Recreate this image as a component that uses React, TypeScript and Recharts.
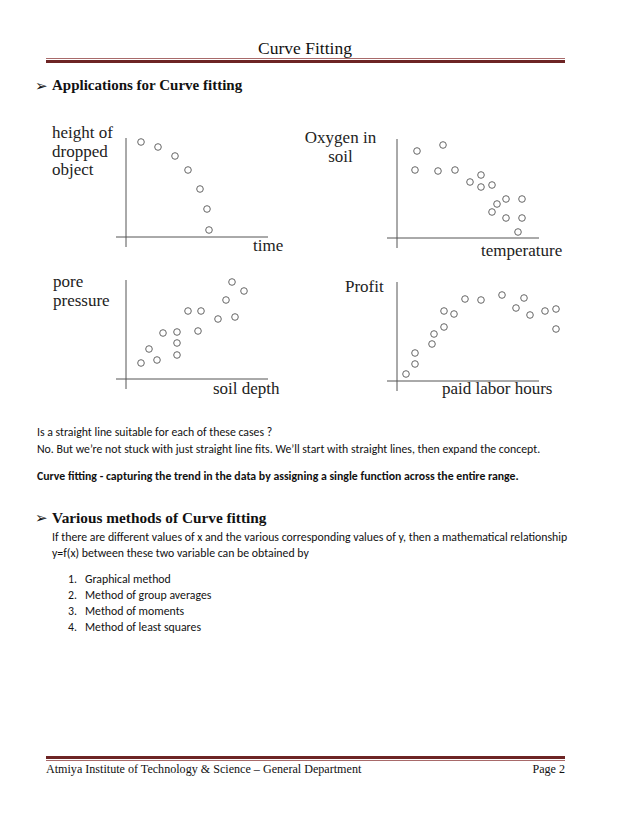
import React from "react";
import { ScatterChart, Scatter, XAxis, YAxis, ReferenceLine } from "recharts";

// values, in plot units (1 unit ~ 10px from the axis corner)
const droppedTime = [1.5, 3.2, 4.9, 6.2, 7.4, 8.1, 8.3];
const droppedHeight = [9.5, 9.0, 8.1, 6.7, 4.8, 2.8, 0.7];

const soilTemp = [2.0, 4.6, 1.8, 4.1, 5.8, 8.4, 7.3, 8.4, 9.5, 10.9, 12.5, 10.0, 9.5, 10.9, 12.5, 12.1];
const soilOxygen = [8.7, 9.3, 6.8, 6.7, 6.8, 6.3, 5.6, 5.1, 5.3, 3.9, 3.9, 3.4, 2.6, 2.0, 2.0, 0.6];

const soilDepth = [10.6, 11.8, 10.0, 6.2, 7.5, 9.2, 10.9, 7.2, 3.7, 5.1, 5.1, 2.3, 5.1, 3.1, 1.5];
const porePressure = [9.7, 8.8, 7.9, 6.8, 6.8, 6.0, 6.2, 4.8, 4.6, 4.7, 3.6, 3.0, 2.4, 1.9, 1.6];

const laborHours = [0.9, 1.8, 1.8, 3.5, 3.7, 4.7, 4.7, 5.7, 6.8, 8.4, 10.5, 12.7, 11.9, 13.3, 14.8, 15.9, 15.9];
const profit = [0.7, 1.7, 2.8, 3.7, 4.7, 5.4, 7.0, 6.7, 8.2, 8.1, 8.6, 8.3, 7.3, 6.6, 7.0, 7.2, 5.2];

const methods = ["Graphical method", "Method of group averages", "Method of moments", "Method of least squares"];

const SERIF = "'Liberation Serif', 'Times New Roman', serif";
const BODY = "Carlito, Lato, 'Liberation Sans', sans-serif";
const HEAD = "'Liberation Serif', serif";
const MAROON = "#6d2424";

const PX = 10;
const W = 185;
const H = 128;
const OX = 15; // axis corner inside the chart box
const OY = 113;

const Ring = (props: any) => (
    <circle cx={props.cx} cy={props.cy} r={3.3} fill="#fff" stroke="#666" strokeWidth={1} />
);

function Plot({ x, y, xs, ys }: { x: number; y: number; xs: number[]; ys: number[] }) {
    const data = xs.map((v, i) => ({ x: v, y: ys[i] }));
    return (
        <div style={{ position: "absolute", left: x - OX, top: y - OY }}>
            <ScatterChart width={W} height={H} margin={{ top: 0, right: 0, bottom: 0, left: 0 }}>
                <XAxis type="number" dataKey="x" hide domain={[-OX / PX, (W - OX) / PX]} allowDataOverflow />
                <YAxis type="number" dataKey="y" hide domain={[-(H - OY) / PX, OY / PX]} allowDataOverflow />
                <ReferenceLine segment={[{ x: 0, y: -1 }, { x: 0, y: 9.9 }]} stroke="#555" strokeWidth={1} />
                <ReferenceLine segment={[{ x: -1, y: 0 }, { x: 14.2, y: 0 }]} stroke="#555" strokeWidth={1} />
                <Scatter data={data} isAnimationActive={false} shape={Ring} />
            </ScatterChart>
        </div>
    );
}

const label = (left: number, top: number, text: React.ReactNode, extra: any = {}) => (
    <div style={{
        position: "absolute", left, top, fontFamily: SERIF, fontSize: 17, lineHeight: "18.5px",
        color: "#222", whiteSpace: "nowrap", ...extra
    }}>{text}</div>
);

const bodyLine = (left: number, top: number, text: string, bold = false) => (
    <div style={{
        position: "absolute", left, top, fontFamily: BODY, fontSize: 11.8, lineHeight: "14px",
        fontWeight: bold ? 700 : 400, color: "#111", whiteSpace: "nowrap"
    }}>{text}</div>
);

const heading = (top: number, text: string, size: number) => (
    <>
        <div style={{ position: "absolute", left: 35, top: top, fontFamily: "'DejaVu Sans', sans-serif", fontSize: 15, color: "#111" }}>➢</div>
        <div style={{ position: "absolute", left: 52, top, fontFamily: HEAD, fontSize: size, fontWeight: 700, color: "#111", whiteSpace: "nowrap" }}>{text}</div>
    </>
);

export default function App() {
    return (
        <div style={{ position: "absolute", left: 0, top: 0, width: 638, height: 826, background: "#fff", overflow: "hidden" }}>
            {/* page header */}
            <div style={{ position: "absolute", left: 0, width: 610, top: 38, textAlign: "center", fontFamily: SERIF, fontSize: 17.5, color: "#111" }}>
                Curve Fitting
            </div>
            <div style={{ position: "absolute", left: 46, width: 519, top: 58, height: 1, background: "#a86a6a" }} />
            <div style={{ position: "absolute", left: 46, width: 519, top: 60, height: 3, background: MAROON }} />

            {heading(77, "Applications for Curve fitting", 15)}

            {/* four scatter sketches */}
            {label(52, 124, <>height of<br />dropped<br />object</>)}
            {label(253, 237, "time")}
            <Plot x={126} y={237} xs={droppedTime} ys={droppedHeight} />

            {label(303, 129, <>Oxygen in<br />soil</>, { width: 75, textAlign: "center" })}
            {label(481, 242, "temperature")}
            <Plot x={397} y={238} xs={soilTemp} ys={soilOxygen} />

            {label(53, 273, <>pore<br />pressure</>)}
            {label(213, 380, "soil depth")}
            <Plot x={126} y={379} xs={soilDepth} ys={porePressure} />

            {label(345, 278, "Profit")}
            {label(442, 380, "paid labor hours")}
            <Plot x={397} y={381} xs={laborHours} ys={profit} />

            {bodyLine(37, 425, "Is a straight line suitable for each of these cases ?")}
            {bodyLine(37, 442, "No.  But we\u2019re not stuck with just straight line fits. We\u2019ll start with straight lines, then expand the concept.")}
            {bodyLine(37, 469, "Curve fitting - capturing the trend in the data by assigning a single function across the entire range.", true)}

            {heading(509, "Various methods of Curve fitting", 15.3)}
            {bodyLine(52, 530, "If there are different values of x and the various corresponding values of y, then a mathematical relationship")}
            {bodyLine(52, 546, "y=f(x) between these two variable can be obtained by")}
            {methods.map((m, i) => (
                <React.Fragment key={m}>
                    {bodyLine(68, 572 + i * 16, `${i + 1}.`)}
                    {bodyLine(85, 572 + i * 16, m)}
                </React.Fragment>
            ))}

            {/* page footer */}
            <div style={{ position: "absolute", left: 46, width: 519, top: 756, height: 3, background: MAROON }} />
            <div style={{ position: "absolute", left: 46, width: 519, top: 760, height: 1, background: "#a86a6a" }} />
            <div style={{ position: "absolute", left: 46, top: 762, fontFamily: SERIF, fontSize: 12.1, color: "#111", whiteSpace: "nowrap" }}>
                Atmiya Institute of Technology &amp; Science – General Department
            </div>
            <div style={{ position: "absolute", right: 73, top: 762, fontFamily: SERIF, fontSize: 12.1, color: "#111" }}>
                Page 2
            </div>
        </div>
    );
}
